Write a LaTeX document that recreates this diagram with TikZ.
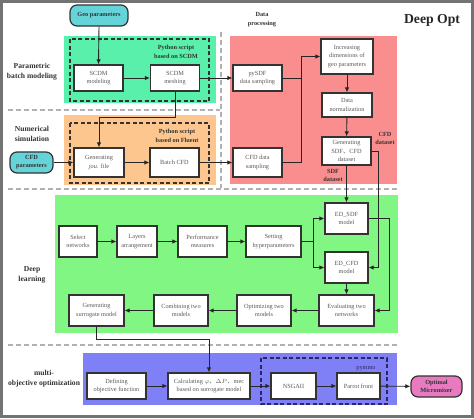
\documentclass[tikz,border=0pt]{standalone}
\usepackage{fontspec}
\setmainfont{Liberation Serif}
\newfontfamily\cjk{Noto Sans CJK SC}
\usetikzlibrary{arrows.meta}

\definecolor{mintfill}{RGB}{88,240,170}
\definecolor{orangefill}{RGB}{252,198,142}
\definecolor{pinkfill}{RGB}{250,142,142}
\definecolor{greenfill}{RGB}{130,246,130}
\definecolor{bluefill}{RGB}{128,128,246}
\definecolor{cyanpill}{RGB}{100,212,216}
\definecolor{magpill}{RGB}{232,122,192}
\definecolor{navydash}{RGB}{40,40,100}

\begin{document}
\begin{tikzpicture}[x=1pt, y=-1pt, >={Latex[length=5pt,width=4.5pt]},
    box/.style={draw=black!80, line width=1.2pt, fill=white, text=black!65, align=center,
        inner sep=1pt, font=\fontsize{6.3}{8.5}\selectfont},
    pill/.style={draw=black!80, line width=1.2pt, rounded corners=7pt, align=center,
        inner sep=1pt, text=black!80, font=\bfseries\fontsize{6.3}{8}\selectfont},
    lbl/.style={align=center, text=black!80, font=\bfseries\fontsize{7.6}{10}\selectfont},
    sublbl/.style={align=center, text=black!80, font=\bfseries\fontsize{6.3}{8.5}\selectfont},
    dashbox/.style={draw=black!80, line width=1.2pt, dash pattern=on 4pt off 2.5pt},
    sep/.style={draw=black!30, line width=1.3pt, dash pattern=on 5pt off 3pt},
    arr/.style={->, draw=black!85, line width=0.9pt},
    conn/.style={draw=black!85, line width=0.9pt}]
    \useasboundingbox (0,0) rectangle (474,418);
    % Frame
    \draw[black!55, line width=2.5pt] (1.5,1.5) rectangle (472.5,416.5);
    % Regions
    \fill[mintfill] (64,36) rectangle (216,103);
    \draw[dashbox] (70,39) rectangle (209,101);
    \fill[orangefill] (64,115) rectangle (216,185);
    \draw[dashbox] (70,123) rectangle (209,183);
    \fill[pinkfill] (230,36) rectangle (397,184);
    \fill[greenfill] (55,195) rectangle (398,333);
    \fill[bluefill] (83,353) rectangle (397,405);
    \draw[dashbox, draw=navydash] (261,358) rectangle (387,404);
    % Separators
    \draw[sep] (8,110) -- (220,110);
    \draw[sep] (221,32) -- (221,188);
    \draw[sep] (8,189) -- (397,189);
    \draw[sep] (8,345) -- (397,345);

    % Parametric batch modeling
    \node[pill, fill=cyanpill, minimum width=58pt, minimum height=21pt] (geo) at (99,15.5) {Geo parameters};
    \node[lbl] (parlbl) at (32,72) {Parametric\\batch modeling};
    \node[sublbl] (pyscdm) at (176,52) {Python script\\based on SCDM};
    \node[box, minimum width=49pt, minimum height=26pt] (scdmmod) at (98.5,78) {SCDM\\modeling};
    \node[box, minimum width=49pt, minimum height=26pt] (scdmmesh) at (175,78) {SCDM\\meshing};

    % Numerical simulation
    \node[lbl] (numlbl) at (32,134) {Numerical\\simulation};
    \node[pill, fill=cyanpill, minimum width=43pt, minimum height=21pt] (cfdpar) at (31.5,162.5) {CFD\\parameters};
    \node[sublbl] (pyflu) at (177,136) {Python script\\based on Fluent};
    \node[box, minimum width=50pt, minimum height=29pt] (genjou) at (99,162.5) {Generating\\\textit{jou.} file};
    \node[box, minimum width=49pt, minimum height=29pt] (batch) at (174.5,162.5) {Batch CFD};

    % Data processing
    \node[sublbl] (dplbl) at (262,19.5) {Data\\processing};
    \node[text=black!85, font=\bfseries\fontsize{13.7}{16}\selectfont] (title) at (432,20) {Deep Opt};
    \node[box, minimum width=49pt, minimum height=26pt] (pysdf) at (257.5,78) {pySDF\\data sampling};
    \node[box, minimum width=49pt, minimum height=29pt] (cfdsamp) at (257.5,162.5) {CFD data\\sampling};
    \node[box, minimum width=52pt, minimum height=35pt] (incr) at (347,56.5) {Increasing\\dimensions of\\geo parameters};
    \node[box, minimum width=50pt, minimum height=24pt] (norm) at (347,105) {Data\\normalization};
    \node[box, minimum width=49pt, minimum height=28pt] (gendata) at (346.5,151) {Generating\\SDF{\cjk 、}CFD\\dataset};
    \node[sublbl] (cfdset) at (385,138.5) {CFD\\dataset};
    \node[sublbl] (sdfset) at (333,175.5) {SDF\\dataset};

    % Deep learning
    \node[lbl] (dllbl) at (32,275) {Deep\\learning};
    \node[box, minimum width=38pt, minimum height=31pt] (select) at (78,241.5) {Select\\networks};
    \node[box, minimum width=40pt, minimum height=31pt] (layers) at (137,241.5) {Layers\\arrangement};
    \node[box, minimum width=49pt, minimum height=31pt] (perf) at (202.5,241.5) {Performance\\measures};
    \node[box, minimum width=55pt, minimum height=31pt] (hyper) at (273.5,241.5) {Setting\\hyperparameters};
    \node[box, minimum width=43pt, minimum height=31pt] (edsdf) at (346.5,218.5) {ED\_SDF\\model};
    \node[box, minimum width=43pt, minimum height=31pt] (edcfd) at (346.5,267.5) {ED\_CFD\\model};
    \node[box, minimum width=55pt, minimum height=31pt] (eval) at (346.5,310.5) {Evaluating two\\networks};
    \node[box, minimum width=54pt, minimum height=31pt] (optim) at (264,310.5) {Optimizing two\\models};
    \node[box, minimum width=54pt, minimum height=31pt] (combine) at (181,310.5) {Combining two\\models};
    \node[box, minimum width=55pt, minimum height=31pt] (surr) at (96.5,310.5) {Generating\\surrogate model};

    % Multi-objective optimization
    \node[lbl] (moolbl) at (44,379) {multi-\\objective optimization};
    \node[box, minimum width=59pt, minimum height=26pt] (define) at (116.5,386) {Defining\\objective function};
    \node[box, minimum width=82pt, minimum height=26pt] (calc) at (209,386) {Calculating $\varphi${\cjk 、}$\Delta P${\cjk 、}mec\\based on surrogate model};
    \node[text=navydash, font=\fontsize{6.3}{8}\selectfont] (pymmo) at (366,368.5) {pymmo};
    \node[box, minimum width=45pt, minimum height=26pt] (nsga) at (293.5,386) {NSGAII};
    \node[box, minimum width=43pt, minimum height=26pt] (parrot) at (358.5,386) {Parrot front};
    \node[pill, fill=magpill, minimum width=51pt, minimum height=21pt] (optimal) at (436.5,386.5) {Optimal\\Micromixer};

    % Connectors
    \coordinate (jouturn) at (175,117);
    \coordinate (merge) at (301,78);
    \coordinate (cfdturn) at (378,151);
    \coordinate (split) at (313,241.5);
    \coordinate (sdfturn) at (389,218.5);
    \coordinate (surrturn) at (96.5,339);
    \draw[arr] (geo.south) -- (scdmmod.north);
    \draw[arr] (scdmmod) -- (scdmmesh);
    \draw[arr] (scdmmesh) -- (pysdf);
    \draw[arr] (scdmmesh.south) -- (jouturn) -| (genjou.north);
    \draw[arr] (cfdpar) -- (genjou);
    \draw[arr] (genjou) -- (batch);
    \draw[arr] (batch) -- (cfdsamp);
    \draw[arr] (pysdf.east) -- (merge) |- (incr.west);
    \draw[conn] (cfdsamp.east) -| (merge);
    \draw[arr] (incr) -- (norm);
    \draw[arr] (norm) -- (gendata);
    \draw[arr] (gendata.south) -- (edsdf.north);
    \draw[arr] (gendata.east) -- (cfdturn) |- (edcfd.east);
    \draw[arr] (select) -- (layers);
    \draw[arr] (layers) -- (perf);
    \draw[arr] (perf) -- (hyper);
    \draw[conn] (hyper) -- (split);
    \draw[arr] (split) |- (edsdf.west);
    \draw[arr] (split) |- (edcfd.west);
    \draw[arr] (edsdf.east) -- (sdfturn) |- (eval.east);
    \draw[arr] (edcfd) -- (eval);
    \draw[arr] (eval) -- (optim);
    \draw[arr] (optim) -- (combine);
    \draw[arr] (combine) -- (surr);
    \draw[arr] (surr.south) -- (surrturn) -| (calc.north);
    \draw[arr] (define) -- (calc);
    \draw[arr] (calc) -- (nsga);
    \draw[arr] (nsga) -- (parrot);
    \draw[arr] (parrot) -- (optimal);
\end{tikzpicture}
\end{document}
